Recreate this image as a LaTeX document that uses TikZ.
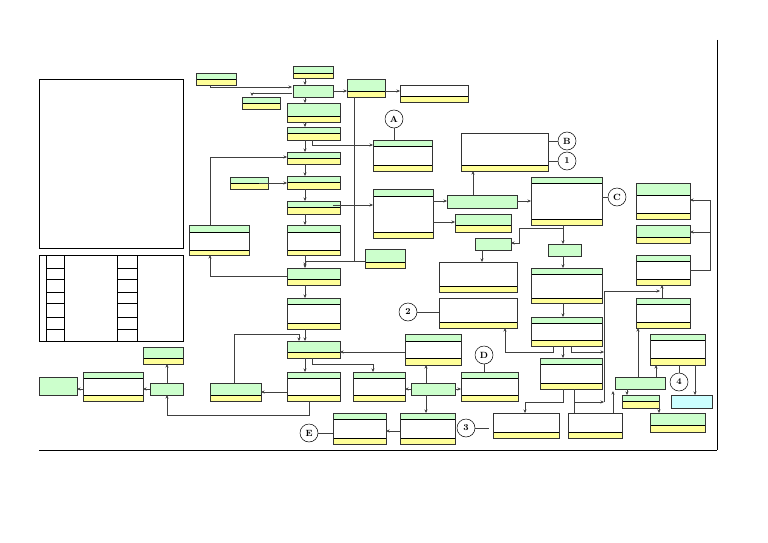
\documentclass[tikz,border=0pt]{standalone}
\usetikzlibrary{fit,arrows.meta}
\definecolor{gf}{HTML}{CCFFCC}
\definecolor{yf}{HTML}{FFFF99}
\definecolor{cf}{HTML}{CCFFFF}
\newcommand\bx[7]{%
 \fill[gf] (#2,#3) rectangle (#4,#6);
 \fill[yf] (#2,#7) rectangle (#4,#5);
 \draw[line width=0.7pt] (#2,#6)--(#4,#6) (#2,#7)--(#4,#7);
 \node[fit={(#2,#3)(#4,#5)},inner sep=0pt,draw,line width=1pt,draw=black!80] (#1) {};}
\begin{document}
\begin{tikzpicture}[x=1pt,y=-1pt,
 cn/.style={line width=0.6pt,draw=black!75},
 ar/.style={cn,-{Stealth[length=3.5pt,width=3pt]}},
 cir/.style={circle,draw,line width=0.5pt,minimum size=18pt,inner sep=0pt,font=\bfseries\small}]
\useasboundingbox[fill=white] (0,0) rectangle (768,543);
% frame lines
\draw[line width=0.9pt] (717,40)--(717,450) (39,450)--(717,450);
% left big boxes
\draw[line width=1pt] (39,79) rectangle (183,248);
\draw[line width=1pt] (39,255) rectangle (183,341);
\draw[line width=0.7pt] (46,255)--(46,341) (64,255)--(64,341) (117,255)--(117,341) (137,255)--(137,341);
\foreach \yy in {268,279,292,303,317,329}{\draw[line width=0.7pt] (46,\yy)--(64,\yy) (117,\yy)--(137,\yy);}
% boxes
\bx{b1}{196}{73}{236}{85}{79}{79}
\bx{b2}{293}{67}{333}{78}{73}{73}
\bx{b3}{293}{85}{333}{97}{97}{97}
\bx{b4}{242}{97}{280}{109}{103}{103}
\bx{b5}{347}{79}{385}{97}{91}{91}
\bx{b6}{400}{85}{468}{102}{85}{96}
\bx{b7}{287}{103}{340}{122}{116}{116}
\bx{b8}{287}{127}{340}{140}{133}{133}
\bx{b9}{373}{140}{432}{171}{146}{165}
\bx{b10}{287}{152}{340}{164}{158}{158}
\bx{b11}{230}{177}{268}{189}{183}{183}
\bx{b12}{287}{176}{340}{189}{182}{182}
\bx{b13}{287}{201}{340}{214}{207}{207}
\bx{b14}{373}{189}{433}{238}{196}{232}
\bx{b15}{189}{225}{249}{255}{232}{250}
\bx{b16}{287}{225}{340}{255}{232}{250}
\bx{b17}{365}{249}{405}{268}{262}{262}
\bx{b18}{287}{268}{340}{285}{279}{279}
\bx{b19}{287}{298}{340}{329}{304}{323}
\bx{b20}{287}{341}{340}{358}{352}{352}
\bx{b21}{405}{334}{461}{365}{341}{358}
\bx{b22}{461}{372}{518}{401}{378}{395}
\bx{b23}{353}{372}{405}{401}{378}{395}
\bx{b24}{287}{372}{340}{401}{378}{395}
\bx{b25}{210}{383}{261}{401}{395}{395}
\bx{b26}{411}{383}{455}{395}{395}{395}
\bx{b27}{143}{347}{183}{364}{358}{358}
\bx{b28}{150}{383}{183}{395}{395}{395}
\bx{b29}{83}{372}{143}{401}{378}{395}
\bx{b30}{39}{377}{77}{395}{395}{395}
\bx{b31}{333}{413}{386}{444}{419}{438}
\bx{b32}{400}{413}{455}{444}{419}{438}
\bx{b33}{461}{133}{548}{171}{133}{165}
\bx{b34}{447}{195}{517}{208}{208}{208}
\bx{b35}{455}{214}{511}{232}{225}{225}
\bx{b36}{531}{177}{602}{225}{183}{219}
\bx{b37}{475}{238}{511}{250}{250}{250}
\bx{b38}{548}{244}{581}{256}{256}{256}
\bx{b39}{439}{262}{517}{292}{262}{286}
\bx{b40}{531}{268}{602}{303}{274}{298}
\bx{b41}{439}{298}{517}{328}{298}{322}
\bx{b42}{531}{317}{602}{346}{323}{340}
\bx{b43}{540}{358}{602}{389}{364}{383}
\bx{b44}{493}{413}{559}{438}{413}{432}
\bx{b45}{568}{413}{622}{438}{413}{432}
\bx{b46}{636}{183}{690}{219}{195}{213}
\bx{b47}{636}{225}{690}{243}{237}{237}
\bx{b48}{636}{255}{690}{285}{261}{279}
\bx{b49}{636}{298}{690}{328}{304}{322}
\bx{b50}{650}{334}{705}{365}{340}{358}
\bx{b51}{615}{377}{665}{389}{389}{389}
\bx{b52}{622}{395}{659}{408}{401}{401}
\bx{b54}{650}{413}{705}{432}{425}{425}
\fill[cf] (671,395) rectangle (712,408);
\node[fit={(671,395)(712,408)},inner sep=0pt,draw,line width=1pt,draw=black!80] (b53) {};
% circles
\node[cir] (cA) at (394,119) {A};
\node[cir] (cB) at (567,141) {B};
\node[cir] (c1) at (567,161) {1};
\node[cir] (cC) at (617,197) {C};
\node[cir] (c2) at (408,312) {2};
\node[cir] (cD) at (484,355) {D};
\node[cir] (cE) at (309,433) {E};
\node[cir] (c3) at (466,428) {3};
\node[cir] (c4) at (679,382) {4};
\draw[cn] (cA)--(394,140) (cB)--(548,141) (c1)--(548,161) (cC)--(602,197)
 (c2)--(439,312) (cD)--(484,372) (cE)--(333,433) (c3)--(489,428) (c4)--(679,365);
% connectors
\draw[ar] (210,85)--(210,87)--(292,87);
\draw[ar] (292,93)--(252,93)--(252,96);
\draw[ar] (305,78)--(305,85);
\draw[ar] (333,91)--(347,91);
\draw[ar] (385,91)--(400,91);
\draw[ar] (305,97)--(305,103);
\draw[ar] (305,122)--(305,127);
\draw[ar] (305,140)--(305,152);
\draw[ar] (305,164)--(305,176);
\draw[ar] (305,189)--(305,201);
\draw[ar] (305,214)--(305,225);
\draw[ar] (312,140)--(312,145)--(373,145);
\draw[ar] (259,183)--(287,183);
\draw[ar] (333,205)--(373,205);
\draw[ar] (210,225)--(210,157)--(287,157);
\draw[cn] (354,97)--(354,261);
\draw[ar] (365,261)--(305,261)--(305,266);
\draw[ar] (305,255)--(305,268);
\draw[ar] (287,276)--(210,276)--(210,255);
\draw[ar] (305,285)--(305,298);
\draw[ar] (305,329)--(305,341);
\draw[ar] (234,383)--(234,334)--(299,334)--(299,341);
\draw[ar] (305,358)--(305,372);
\draw[ar] (312,358)--(312,364)--(373,364)--(373,372);
\draw[ar] (405,352)--(340,352);
\draw[ar] (287,392)--(261,392);
\draw[ar] (309,401)--(309,415)--(167,415)--(167,395);
\draw[ar] (167,383)--(167,364);
\draw[ar] (150,389)--(143,389);
\draw[ar] (83,389)--(77,389);
\draw[ar] (411,389)--(405,389);
\draw[ar] (455,389)--(461,389);
\draw[ar] (426,383)--(426,365);
\draw[ar] (426,395)--(426,413);
\draw[ar] (400,431)--(386,431);
\draw[ar] (433,201)--(447,201);
\draw[ar] (433,222)--(455,222);
\draw[ar] (473,195)--(473,171);
\draw[ar] (517,201)--(531,201);
\draw[ar] (563,225)--(563,228)--(519,228)--(519,243)--(511,243);
\draw[ar] (563,228)--(563,244);
\draw[ar] (482,250)--(482,262);
\draw[ar] (563,256)--(563,268);
\draw[ar] (563,303)--(563,317);
\draw[ar] (553,346)--(553,352)--(505,352)--(505,328);
\draw[ar] (563,346)--(563,358);
\draw[ar] (571,346)--(571,352)--(604,352);
\draw[cn] (604,291)--(604,402);
\draw[ar] (604,291)--(660,291);
\draw[ar] (662,298)--(662,285);
\draw[ar] (563,389)--(563,402)--(525,402)--(525,413);
\draw[cn] (574,389)--(574,413);
\draw[ar] (574,402)--(604,402);
\draw[ar] (613,413)--(613,391);
\draw[ar] (638,377)--(638,328);
\draw[ar] (656,377)--(656,365);
\draw[ar] (627,389)--(627,395);
\draw[ar] (659,401)--(659,413);
\draw[ar] (695,365)--(695,395);
\draw[ar] (690,270)--(710,270)--(710,200)--(690,200);
\draw[ar] (710,232)--(690,232);
\end{tikzpicture}
\end{document}
